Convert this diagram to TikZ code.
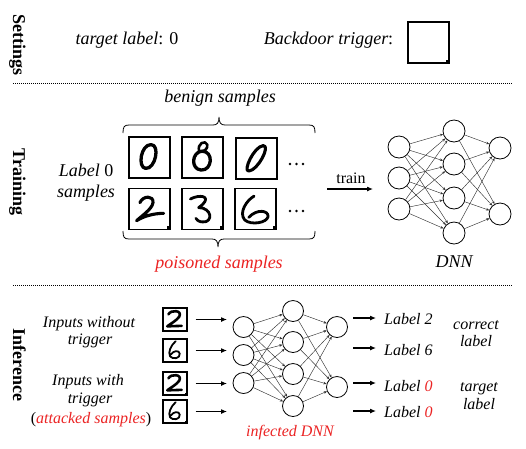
\documentclass[tikz,border=0pt]{standalone}
\usepackage{fontspec}
\setmainfont{Liberation Serif}
\usetikzlibrary{arrows.meta}
\definecolor{pred}{RGB}{235,35,35}
\newcommand{\fsA}{\fontsize{18}{21}\selectfont}
\newcommand{\fsB}{\fontsize{16}{18}\selectfont}
\begin{document}
\begin{tikzpicture}[x=1pt,y=-1pt,
  sect/.style={font=\fsA\bfseries, rotate=-90, inner sep=0, anchor=base},
  lbl/.style={font=\fsA\itshape, inner sep=0, anchor=base},
  slbl/.style={font=\fsB\itshape, inner sep=0, anchor=base},
  neuron/.style={circle, draw, line width=0.8pt, minimum size=22pt, inner sep=0},
  sneuron/.style={neuron, minimum size=21pt},
  edge/.style={line width=0.45pt, draw=black!80, -{Stealth[length=3.2pt,width=2.6pt]}},
  bigbox/.style={draw, line width=1.2pt, minimum size=41pt, inner sep=0},
  smallbox/.style={draw, line width=1.1pt, minimum width=24pt, minimum height=23pt, inner sep=0},
  sepline/.style={line width=0.9pt, dash pattern=on 0.9pt off 1.1pt},
  arr/.style={line width=1.1pt, -{Latex[length=6pt,width=5pt]}},
  digitpen/.style={line width=#1, line cap=round, line join=round},
  bracepen/.style={line width=0.8pt}
]
\useasboundingbox (0,0) rectangle (526,448);

% ---------- section labels
\node[sect] (sSet) at (13,45) {Settings};
\node[sect] (sTrain) at (13,182) {Training};
\node[sect] (sInf) at (13,365) {Inference};

% ---------- settings
\node[lbl] (tlab) at (127,44) {target label\upshape: 0};
\node[lbl] (btrig) at (328.5,44) {Backdoor trigger\upshape:};
\node[bigbox] (trig) at (428.5,42.5) {};
\fill ([shift={(-4,-4)}]trig.south east) rectangle (trig.south east);

\draw[sepline] (13,83) -- (512,83);
\draw[sepline] (13,285) -- (512,285);

% ---------- training
\node[lbl] (benign) at (220,102.5) {benign samples};
\draw[bracepen] (123,133) .. controls (123,127) and (124,125) .. (129,125) -- (213,125)
  .. controls (217,125) and (219,123) .. (219,117) .. controls (219,123) and (221,125) .. (225,125)
  -- (309,125) .. controls (314,125) and (315,127) .. (315,133);
\draw[bracepen] (123,231) .. controls (123,237) and (124,239) .. (129,239) -- (212,239)
  .. controls (216,239) and (218,241) .. (218,247) .. controls (218,241) and (220,239) .. (224,239)
  -- (309,239) .. controls (314,239) and (315,237) .. (315,231);

\node[lbl] (l0a) at (86,176) {Label \upshape 0};
\node[lbl] (l0b) at (86,197) {samples};

\node[bigbox] (b1) at (149.5,157.5) {};
\node[bigbox] (b2) at (202.5,157.5) {};
\node[bigbox] (b3) at (256.5,158.5) {};
\node[bigbox] (b4) at (149.5,209) {};
\node[bigbox] (b5) at (202.5,209) {};
\node[bigbox] (b6) at (255.5,209) {};
\foreach \b in {b4,b5,b6}
  \fill ([shift={(-4,-4)}]\b.south east) rectangle (\b.south east);

\begin{scope}[shift={(b1.north west)}, x=41pt, y=-41pt]
  \draw[digitpen=3.3pt] (0.55,0.2) .. controls (0.78,0.2) and (0.66,0.8) .. (0.42,0.78)
    .. controls (0.22,0.76) and (0.3,0.2) .. (0.55,0.2) -- cycle;
\end{scope}
\begin{scope}[shift={(b2.north west)}, x=41pt, y=-41pt]
  \draw[digitpen=3.3pt] (0.5,0.36) .. controls (0.8,0.36) and (0.75,0.84) .. (0.48,0.82)
    .. controls (0.22,0.8) and (0.25,0.38) .. (0.5,0.36) -- cycle;
  \draw[digitpen=2.6pt] (0.44,0.38) .. controls (0.36,0.16) and (0.6,0.08) .. (0.63,0.2)
    .. controls (0.65,0.3) and (0.56,0.36) .. (0.5,0.36);
\end{scope}
\begin{scope}[shift={(b3.north west)}, x=41pt, y=-41pt]
  \draw[digitpen=3.1pt] (0.68,0.2) .. controls (0.86,0.2) and (0.55,0.8) .. (0.33,0.82)
    .. controls (0.17,0.84) and (0.45,0.22) .. (0.68,0.2) -- cycle;
\end{scope}
\begin{scope}[shift={(b4.north west)}, x=41pt, y=-41pt]
  \draw[digitpen=3.1pt] (0.28,0.36) .. controls (0.36,0.18) and (0.62,0.18) .. (0.6,0.36)
    .. controls (0.58,0.52) and (0.3,0.7) .. (0.2,0.8)
    .. controls (0.35,0.7) and (0.6,0.62) .. (0.86,0.62);
\end{scope}
\begin{scope}[shift={(b5.north west)}, x=41pt, y=-41pt]
  \draw[digitpen=2.8pt] (0.22,0.27) .. controls (0.45,0.15) and (0.72,0.2) .. (0.52,0.4)
    .. controls (0.47,0.45) and (0.42,0.48) .. (0.42,0.48)
    .. controls (0.75,0.48) and (0.78,0.85) .. (0.52,0.83)
    .. controls (0.43,0.83) and (0.37,0.78) .. (0.35,0.74);
\end{scope}
\begin{scope}[shift={(b6.north west)}, x=41pt, y=-41pt]
  \draw[digitpen=2.8pt] (0.48,0.2) .. controls (0.3,0.3) and (0.1,0.6) .. (0.25,0.78)
    .. controls (0.4,0.92) and (0.8,0.85) .. (0.82,0.7)
    .. controls (0.84,0.55) and (0.55,0.5) .. (0.35,0.72);
\end{scope}

\foreach \y in {164,211}
  \foreach \x in {290,296.5,303}
    \fill (\x,\y) circle[radius=1.3pt];

\coordinate (trs) at (327,189);
\coordinate (tre) at (373,189);
\draw[arr] (trs) -- (tre);
\node[font=\fsB, inner sep=0, anchor=base] (trainlbl) at (351,183) {train};

\node[lbl, text=pred] (pois) at (219,268) {poisoned samples};

% training network
\foreach \i/\y in {1/147,2/178,3/209} \node[neuron] (A\i) at (399,\y) {};
\foreach \i/\y in {1/131,2/164,3/198,4/233} \node[neuron] (B\i) at (454,\y) {};
\foreach \i/\y in {1/148,2/214} \node[neuron] (C\i) at (500,\y) {};
\foreach \i in {1,2,3} \foreach \j in {1,2,3,4} \draw[edge] (A\i) -- (B\j);
\foreach \i in {1,2,3,4} \foreach \j in {1,2} \draw[edge] (B\i) -- (C\j);
\node[lbl] (dnn) at (454,267) {DNN};

% ---------- inference
\node[slbl] (iw1) at (89,327) {Inputs without};
\node[slbl] (iw2) at (90,344) {trigger};
\node[slbl] (it1) at (88,385) {Inputs with};
\node[slbl] (it2) at (90,403) {trigger};
\node[slbl] (it3) at (91,423) {{\upshape(}\textcolor{pred}{attacked samples}{\upshape)}};

\foreach \i/\y in {1/319.5,2/350.5,3/383.5,4/411.5} {
  \node[smallbox] (ib\i) at (175,\y) {};
  \coordinate (ie\i) at (227,\y);
  \draw[arr] ([xshift=8pt]ib\i.east) -- (ie\i);
}
\foreach \b in {ib3,ib4}
  \fill ([shift={(-2.5,-2.5)}]\b.south east) rectangle (\b.south east);

\begin{scope}[shift={(ib1.north west)}, x=24pt, y=-23pt]
  \draw[digitpen=2.6pt] (0.25,0.3) .. controls (0.35,0.08) and (0.85,0.12) .. (0.7,0.4)
    .. controls (0.6,0.56) and (0.35,0.7) .. (0.2,0.82) -- (0.8,0.8);
\end{scope}
\begin{scope}[shift={(ib3.north west)}, x=24pt, y=-23pt]
  \draw[digitpen=2.6pt] (0.25,0.3) .. controls (0.35,0.08) and (0.85,0.12) .. (0.7,0.4)
    .. controls (0.6,0.56) and (0.35,0.7) .. (0.2,0.82) -- (0.8,0.8);
\end{scope}
\begin{scope}[shift={(ib2.north west)}, x=24pt, y=-23pt]
  \draw[digitpen=1.8pt] (0.55,0.12) .. controls (0.35,0.3) and (0.22,0.6) .. (0.32,0.78)
    .. controls (0.42,0.92) and (0.75,0.88) .. (0.72,0.66)
    .. controls (0.7,0.5) and (0.45,0.52) .. (0.35,0.7);
\end{scope}
\begin{scope}[shift={(ib4.north west)}, x=24pt, y=-23pt]
  \draw[digitpen=1.8pt] (0.55,0.12) .. controls (0.35,0.3) and (0.22,0.6) .. (0.32,0.78)
    .. controls (0.42,0.92) and (0.75,0.88) .. (0.72,0.66)
    .. controls (0.7,0.5) and (0.45,0.52) .. (0.35,0.7);
\end{scope}

% infected network
\foreach \i/\y in {1/327,2/355,3/383} \node[sneuron] (P\i) at (243.5,\y) {};
\foreach \i/\y in {1/311,2/342,3/374,4/406} \node[sneuron] (Q\i) at (293,\y) {};
\foreach \i/\y in {1/327,2/387} \node[sneuron] (R\i) at (337,\y) {};
\foreach \i in {1,2,3} \foreach \j in {1,2,3,4} \draw[edge] (P\i) -- (Q\j);
\foreach \i in {1,2,3,4} \foreach \j in {1,2} \draw[edge] (Q\i) -- (R\j);
\node[slbl, text=pred] (inf) at (290,436) {infected DNN};

% outputs
\foreach \i/\y in {1/318,2/348,3/383,4/411} {
  \coordinate (os\i) at (353,\y);
  \coordinate (oe\i) at (376,\y);
  \draw[arr] (os\i) -- (oe\i);
}
\node[slbl, anchor=base west] (o1) at (384,324) {Label 2};
\node[slbl, anchor=base west] (o2) at (384,355) {Label 6};
\node[slbl, anchor=base west] (o3) at (384,391) {Label \textcolor{pred}{0}};
\node[slbl, anchor=base west] (o4) at (384,417.5) {Label \textcolor{pred}{0}};

\node[slbl] (cl1) at (476,329) {correct};
\node[slbl] (cl2) at (476,346) {label};
\node[slbl] (tg1) at (479,391) {target};
\node[slbl] (tg2) at (479,409) {label};
\end{tikzpicture}
\end{document}
